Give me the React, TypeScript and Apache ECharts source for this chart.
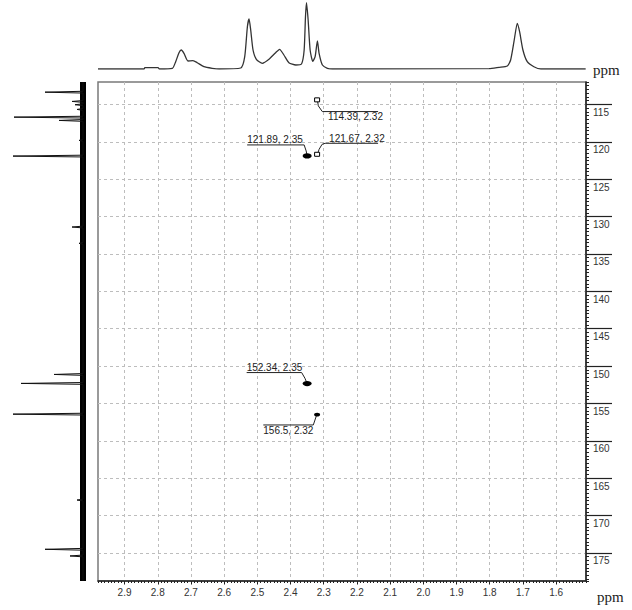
import React, { useEffect, useRef } from "react";
import * as echarts from "echarts";

// ---- axes ----
const X_MIN = 1.51;
const X_MAX = 2.98;
const Y_MIN = 112;
const Y_MAX = 178.75;
const X_TICKS = [1.6, 1.7, 1.8, 1.9, 2.0, 2.1, 2.2, 2.3, 2.4, 2.5, 2.6, 2.7, 2.8, 2.9];
const Y_TICKS = [115, 120, 125, 130, 135, 140, 145, 150, 155, 160, 165, 170, 175];

// ---- 1H projection (top), ppm and intensity ----
const TOP_PPM = [
  2.98, 2.841, 2.839, 2.799, 2.795, 2.756, 2.746, 2.736, 2.729, 2.721, 2.709, 2.694, 2.681,
  2.661, 2.636, 2.615, 2.55, 2.538, 2.53, 2.525, 2.52, 2.513, 2.503, 2.485, 2.465, 2.445,
  2.433, 2.42, 2.405, 2.384, 2.367, 2.359, 2.355, 2.352, 2.347, 2.341, 2.333, 2.326, 2.319,
  2.314, 2.304, 2.289, 2.274, 1.802, 1.772, 1.747, 1.737, 1.727, 1.717, 1.71, 1.7, 1.687,
  1.667, 1.646, 1.511,
];
const TOP_INT = [
  0, 0, 1.3, 1.3, 0, 0.7, 7.3, 16.3, 19, 15.7, 8, 8.3, 6.3, 2.3, 0.7, 0, 1, 12.3, 42.3, 50,
  39, 19, 9.7, 5.7, 9.7, 16.3, 19.7, 14, 6.3, 4, 5, 19, 52.3, 66.3, 49, 19, 7.7, 12.3, 28,
  15.7, 4, 0.7, 0, 0.3, 1.7, 3, 9, 27.3, 45.7, 37.3, 19, 7.3, 2.3, 0, 0,
];

// ---- 13C projection (left), line positions and heights ----
const SIDE_PPM = [
  113.36, 114.6, 115.04, 115.67, 116.7, 117.14, 119.81, 121.91, 131.4, 133.58, 151.12,
  152.32, 156.43, 167.92, 174.51, 175.4,
];
const SIDE_INT = [38, 11, 8, 6, 69, 24, 4, 70, 11, 4, 29, 62, 70, 6, 38, 13];

// ---- cross peaks ----
const PEAK_H = [2.32, 2.35, 2.32, 2.35, 2.32];
const PEAK_C = [114.39, 121.89, 121.67, 152.34, 156.5];
const PEAK_LABELS = ["114.39, 2.32", "121.89, 2.35", "121.67, 2.32", "152.34, 2.35", "156.5, 2.32"];

// ---- callout layout (pixel offsets from the peak) ----
const CALLOUTS = [
  { leader: [[0, -2], [1.2, 6], [5.2, 11.7], [61, 11.7]], tx: 11, ty: 17, marker: "open" },
  { leader: [[0, 0], [-1, -5], [-3, -11], [-60, -11]], tx: -60, ty: -16.5, marker: "blob" },
  { leader: [[1, -2], [2, -5], [5, -10], [8, -11], [61, -11]], tx: 12, ty: -16, marker: "open" },
  { leader: [[0, 0], [-2.2, -5.3], [-5.5, -11], [-60.5, -11]], tx: -60.5, ty: -16.5, marker: "blob" },
  { leader: [[0, 0], [-1, 2], [-3.8, 10.3], [-53.8, 10.3]], tx: -53.8, ty: 16, marker: "small" },
];

const SPIKE_HALF = 0.12;
const FONT = "Liberation Sans";

function buildSide() {
  const pts: number[][] = [[0, Y_MIN]];
  SIDE_PPM.forEach((p, i) => {
    pts.push([0, p - SPIKE_HALF], [SIDE_INT[i], p], [0, p + SPIKE_HALF]);
  });
  pts.push([0, Y_MAX]);
  return pts;
}

export default function App() {
  const ref = useRef<HTMLDivElement>(null);
  useEffect(() => {
    const chart = echarts.init(ref.current!, null, { renderer: "svg" });
    const dashed = { show: true, lineStyle: { color: "#bdbdbd", type: [3, 3], width: 1 } };
    const option: any = {
      animation: false,
      backgroundColor: "#ffffff",
      grid: [
        { left: 98, top: 82, width: 488, height: 499, show: true, borderColor: "#7a7a7a", borderWidth: 1.5, backgroundColor: "transparent" },
        { left: 98, top: 0, width: 488, height: 69 },
        { left: 8, top: 82, width: 78, height: 499 },
      ],
      xAxis: [
        {
          type: "value", gridIndex: 0, min: X_MIN, max: X_MAX, inverse: true, position: "bottom",
          axisLine: { show: true, lineStyle: { color: "#222", width: 1.5 } },
          axisTick: { show: true, customValues: X_TICKS, length: 3.5, lineStyle: { color: "#222" } },
          axisLabel: { show: true, customValues: X_TICKS, formatter: (v: number) => v.toFixed(1), margin: 6, color: "#333", fontSize: 10, fontFamily: FONT },
          splitLine: dashed,
        },
        {
          type: "value", gridIndex: 0, min: X_MIN, max: X_MAX, inverse: true, position: "bottom", interval: 0.01,
          axisLine: { show: false }, axisTick: { show: true, length: 2, lineStyle: { color: "#222" } },
          axisLabel: { show: false }, splitLine: { show: false },
        },
        { type: "value", gridIndex: 1, min: X_MIN, max: X_MAX, inverse: true, show: false },
        { type: "value", gridIndex: 2, min: -3, max: 75, inverse: true, show: false },
      ],
      yAxis: [
        {
          type: "value", gridIndex: 0, min: Y_MIN, max: Y_MAX, inverse: true, position: "right",
          axisLine: { show: true, lineStyle: { color: "#222", width: 1.5 } },
          axisTick: { show: true, customValues: Y_TICKS, length: 26, lineStyle: { color: "#222", width: 1.2 } },
          axisLabel: { show: true, customValues: Y_TICKS, margin: 7, verticalAlign: "top", padding: [3, 0, 0, 0], color: "#333", fontSize: 10, fontFamily: FONT },
          splitLine: dashed,
        },
        {
          type: "value", gridIndex: 0, min: Y_MIN, max: Y_MAX, inverse: true, position: "right", interval: 0.5,
          axisLine: { show: false }, axisTick: { show: true, length: 3, lineStyle: { color: "#222" } },
          axisLabel: { show: false }, splitLine: { show: false },
        },
        { type: "value", gridIndex: 1, min: 0, max: 69, show: false },
        { type: "value", gridIndex: 2, min: Y_MIN, max: Y_MAX, inverse: true, show: false },
      ],
      graphic: [
        { type: "text", left: 593, top: 62, style: { text: "ppm", font: '15px "Liberation Serif"', fill: "#222" } },
        { type: "text", left: 597, top: 589, style: { text: "ppm", font: '15px "Liberation Serif"', fill: "#222" } },
      ],
      series: [
        {
          type: "line", xAxisIndex: 2, yAxisIndex: 2, data: TOP_PPM.map((p, i) => [p, TOP_INT[i]]),
          showSymbol: false, smooth: 0.2, lineStyle: { color: "#333", width: 1.3 }, silent: true,
        },
        {
          type: "line", xAxisIndex: 3, yAxisIndex: 3, data: [[0, Y_MIN], [0, Y_MAX]],
          showSymbol: false, lineStyle: { color: "#000", width: 6 }, silent: true,
        },
        {
          type: "line", xAxisIndex: 3, yAxisIndex: 3, data: buildSide(),
          showSymbol: false, lineStyle: { color: "#111", width: 1 }, silent: true,
        },
        {
          type: "custom", xAxisIndex: 0, yAxisIndex: 0, z: 10,
          data: PEAK_H.map((h, i) => [h, PEAK_C[i]]),
          renderItem: (params: any, api: any) => {
            const i = params.dataIndex;
            const pt = api.coord([api.value(0), api.value(1)]);
            const c = CALLOUTS[i];
            const children: any[] = [];
            children.push({
              type: "polyline",
              shape: { points: c.leader.map((d) => [pt[0] + d[0], pt[1] + d[1]]) },
              style: { stroke: "#222", lineWidth: 1, fill: null },
            });
            children.push({
              type: "text", x: pt[0] + c.tx, y: pt[1] + c.ty,
              style: { text: PEAK_LABELS[i], fill: "#222", font: `10px "${FONT}"`, align: "left", verticalAlign: "middle" },
            });
            if (c.marker === "blob") {
              children.push({ type: "ellipse", shape: { cx: pt[0], cy: pt[1], rx: 4.5, ry: 2.6 }, style: { fill: "#000" } });
            } else if (c.marker === "open") {
              children.push({ type: "rect", shape: { x: pt[0] - 2.5, y: pt[1] - 2, width: 5, height: 4 }, style: { fill: "#fff", stroke: "#000", lineWidth: 1 } });
            } else {
              children.push({ type: "ellipse", shape: { cx: pt[0], cy: pt[1], rx: 3, ry: 1.8 }, style: { fill: "#000" } });
            }
            return { type: "group", children };
          },
        },
      ],
    };
    chart.setOption(option);
    return () => chart.dispose();
  }, []);
  return <div ref={ref} style={{ position: "fixed", left: 0, top: 0, width: 632, height: 610 }} />;
}
